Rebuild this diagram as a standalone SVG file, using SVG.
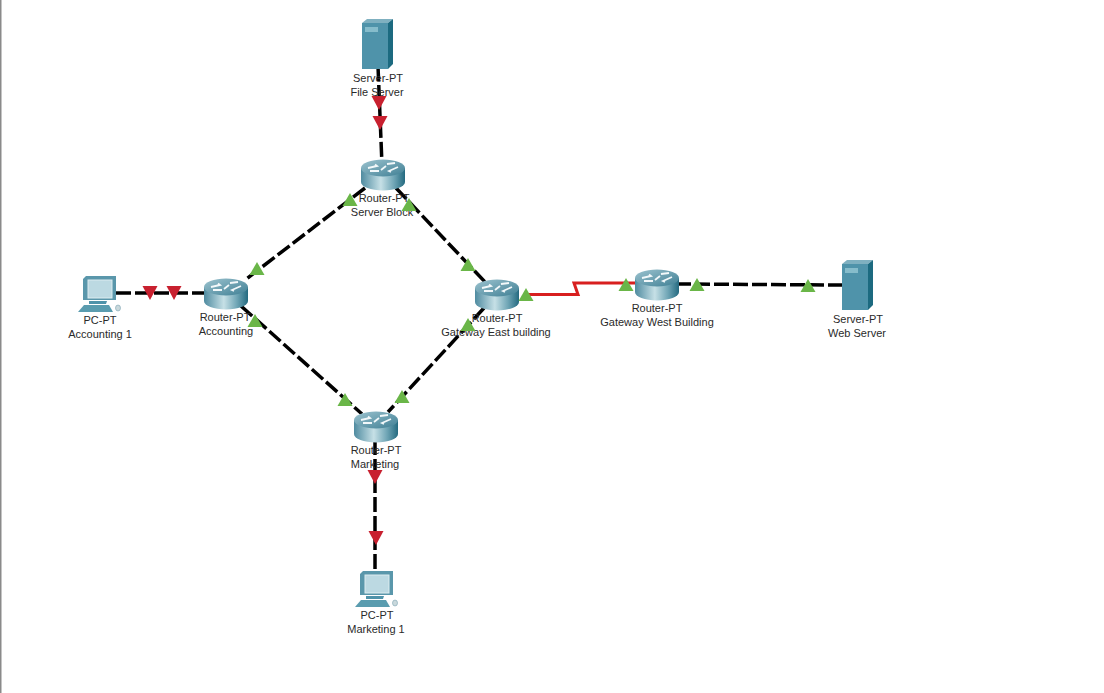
<svg xmlns="http://www.w3.org/2000/svg" width="1104" height="693" viewBox="0 0 1104 693">
<style>
.l{fill:none;stroke:#000;stroke-width:3.5;stroke-dasharray:15 4}
.t{font-family:"Liberation Sans",Arial,sans-serif;font-size:11px;fill:#2a2a2a;text-anchor:middle}
.g{fill:#6ab648}
.r{fill:#c8202f}
</style>
<defs>
<linearGradient id="rg" x1="0" x2="1" y1="0" y2="0"><stop offset="0" stop-color="#4f8ba0"/><stop offset=".45" stop-color="#c6e0e6"/><stop offset=".75" stop-color="#6fa5b5"/><stop offset="1" stop-color="#246a80"/></linearGradient>
<linearGradient id="rt" x1="0" x2="1" y1="0" y2="1"><stop offset="0" stop-color="#9cc3cf"/><stop offset="1" stop-color="#3f7f94"/></linearGradient>
<g id="router">
<path d="M-22-7V7A22 8.500 0 0 0 22 7V-7Z" fill="url(#rg)"/>
<ellipse cx="0" cy="-7" rx="22" ry="8.500" fill="url(#rt)"/>
<path d="M-15-7L-6-9L-8-10.500M15-8L6-4L8-3M-13-4L-4-4M4-11L12-12M-2-5L3-9" fill="none" stroke="#f2f8fa" stroke-width="1.800"/>
</g>
<g id="server">
<path d="M-15-20L-10-24H16L11-20Z" fill="#7fb0c0"/>
<path d="M11-20L16-24V21L11 26Z" fill="#1c6a80"/>
<rect x="-15" y="-20" width="26" height="46" fill="#4f93aa"/>
<rect x="-12" y="-16" width="13" height="5" fill="#86bccb"/>
</g>
<g id="pc">
<path d="M-14-17L-11-20H19V4H-14Z" fill="#5a97ab"/>
<rect x="-9" y="-16" width="24" height="18" fill="#bcd9e2" stroke="#dcecf0"/>
<path d="M-8 5H10L9 8H-8Z" fill="#4f93aa"/>
<path d="M-13 9H12L16 16H-19Z" fill="#5a9caf"/>
<ellipse cx="21" cy="12" rx="2.500" ry="3" fill="#c9d8dc" stroke="#7da5b1" stroke-width=".6"/>
</g>
<path id="up" d="M0-7L7.500 6H-7.500Z"/>
<path id="dn" d="M-7.500-6H7.500L0 8Z"/>
</defs>
<rect width="1104" height="693" fill="#fff"/>
<rect x="0" y="0" width="1.500" height="693" fill="#8a8a8a"/>
<g id="connectors">
<path class="l" d="M378 66L382 165"/>
<path class="l" d="M365 188L245 280"/>
<path class="l" d="M396 188L486 283"/>
<path class="l" d="M241 306L362 414"/>
<path class="l" d="M484 308L388 412"/>
<path class="l" d="M375 440V572"/>
<path class="l" d="M116 293H206"/>
<path d="M526 294.500H578L574 283H636" fill="none" stroke="#d81f1f" stroke-width="3"/>
<path class="l" d="M676 284L844 285"/>
</g>
<g id="file-server"><use href="#server" x="377" y="43"/><text class="t" x="378" y="82">Server-PT</text><text class="t" x="377" y="96">File Server</text></g>
<g id="web-server"><use href="#server" x="857" y="284"/><text class="t" x="858" y="323">Server-PT</text><text class="t" x="857" y="337">Web Server</text></g>
<g id="pc-accounting"><use href="#pc" x="97" y="296"/><text class="t" x="100" y="324">PC-PT</text><text class="t" x="100" y="338">Accounting 1</text></g>
<g id="pc-marketing"><use href="#pc" x="374" y="591"/><text class="t" x="377" y="619">PC-PT</text><text class="t" x="376" y="633">Marketing 1</text></g>
<g id="router-server"><use href="#router" x="383" y="175"/><text class="t" x="384" y="202">Router-PT</text><text class="t" x="382" y="216">Server Block</text></g>
<g id="router-accounting"><use href="#router" x="226" y="294"/><text class="t" x="225" y="321">Router-PT</text><text class="t" x="226" y="335">Accounting</text></g>
<g id="router-east"><use href="#router" x="497" y="295"/><text class="t" x="497" y="322">Router-PT</text><text class="t" x="496" y="336">Gateway East building</text></g>
<g id="router-west"><use href="#router" x="657" y="285"/><text class="t" x="657" y="312">Router-PT</text><text class="t" x="657" y="326">Gateway West Building</text></g>
<g id="router-marketing"><use href="#router" x="376" y="427"/><text class="t" x="376" y="454">Router-PT</text><text class="t" x="375" y="468">Marketing</text></g>
<g id="link-status">
<use href="#dn" class="r" x="379" y="102"/><use href="#dn" class="r" x="380" y="122"/>
<use href="#dn" class="r" x="150" y="292"/><use href="#dn" class="r" x="174" y="292"/>
<use href="#dn" class="r" x="375" y="476"/><use href="#dn" class="r" x="376" y="537"/>
<use href="#up" class="g" x="350" y="200"/><use href="#up" class="g" x="257" y="269"/>
<use href="#up" class="g" x="409" y="205"/><use href="#up" class="g" x="468" y="265"/>
<use href="#up" class="g" x="255" y="321"/><use href="#up" class="g" x="345" y="400"/>
<use href="#up" class="g" x="468" y="325"/><use href="#up" class="g" x="402" y="397"/>
<use href="#up" class="g" x="526" y="295"/><use href="#up" class="g" x="626" y="285"/>
<use href="#up" class="g" x="697" y="285"/><use href="#up" class="g" x="808" y="286"/>
</g>
</svg>
